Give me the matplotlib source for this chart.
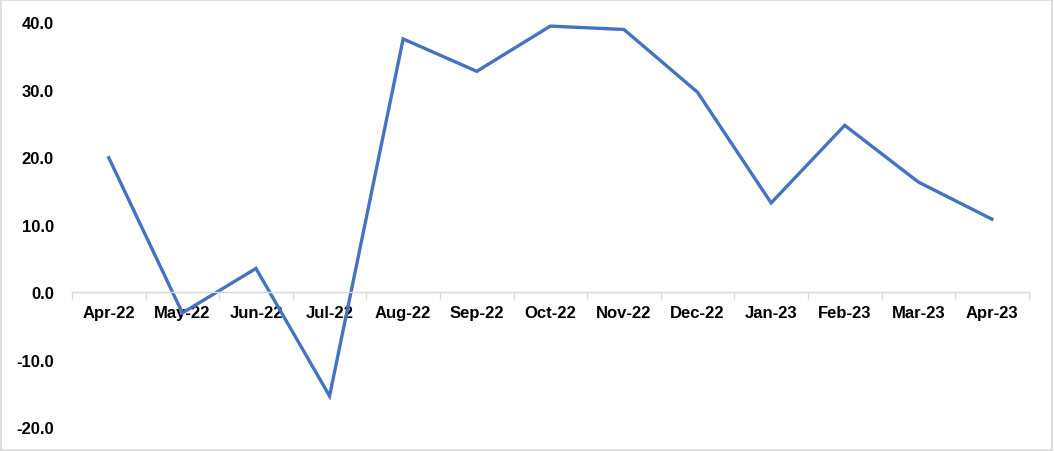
import matplotlib.pyplot as plt
from matplotlib.patches import Rectangle
import numpy as np

months = ['Apr-22', 'May-22', 'Jun-22', 'Jul-22', 'Aug-22', 'Sep-22', 'Oct-22',
          'Nov-22', 'Dec-22', 'Jan-23', 'Feb-23', 'Mar-23', 'Apr-23']
values = [19.9, -3.1, 3.5, -15.4, 37.5, 32.7, 39.4, 38.9, 29.6, 13.2, 24.7, 16.3, 10.8]
yticks = [-20, -10, 0, 10, 20, 30, 40]

plt.rcParams['font.family'] = ['Liberation Sans', 'DejaVu Sans']
plt.rcParams['font.weight'] = 'bold'

fig = plt.figure(figsize=(10.54, 4.52), dpi=100)
ax = fig.add_axes([0.0683, 0.053, 0.9077, 0.896])

x = np.arange(len(months))
ax.plot(x, values, color='#4472C4', linewidth=2.4, solid_joinstyle='miter')

ax.set_xlim(-0.5, len(months) - 0.5)
ax.set_ylim(-20, 40)

ax.set_yticks(yticks)
ax.set_yticklabels([f'{v:.1f}' for v in yticks])
ax.tick_params(axis='y', length=0, pad=13, labelsize=12)

ax.set_xticks(x)
ax.set_xticklabels(months)
ax.set_xticks(np.arange(len(months) + 1) - 0.5, minor=True)
ax.tick_params(axis='x', which='major', length=0, pad=9, labelsize=12)
ax.tick_params(axis='x', which='minor', length=5, color='#d9d9d9', width=1)
plt.setp(ax.get_xticklabels() + ax.get_yticklabels(), fontweight='bold')

for s in ['top', 'right', 'left']:
    ax.spines[s].set_visible(False)
ax.spines['bottom'].set_position(('data', 0))
ax.spines['bottom'].set_color('#d9d9d9')
ax.spines['bottom'].set_linewidth(1)

fig.patches.append(Rectangle((0.001, 0.002), 0.997, 0.995, transform=fig.transFigure,
                             fill=False, edgecolor='#d9d9d9', linewidth=1.2))

fig.savefig('out.png', dpi=100)
